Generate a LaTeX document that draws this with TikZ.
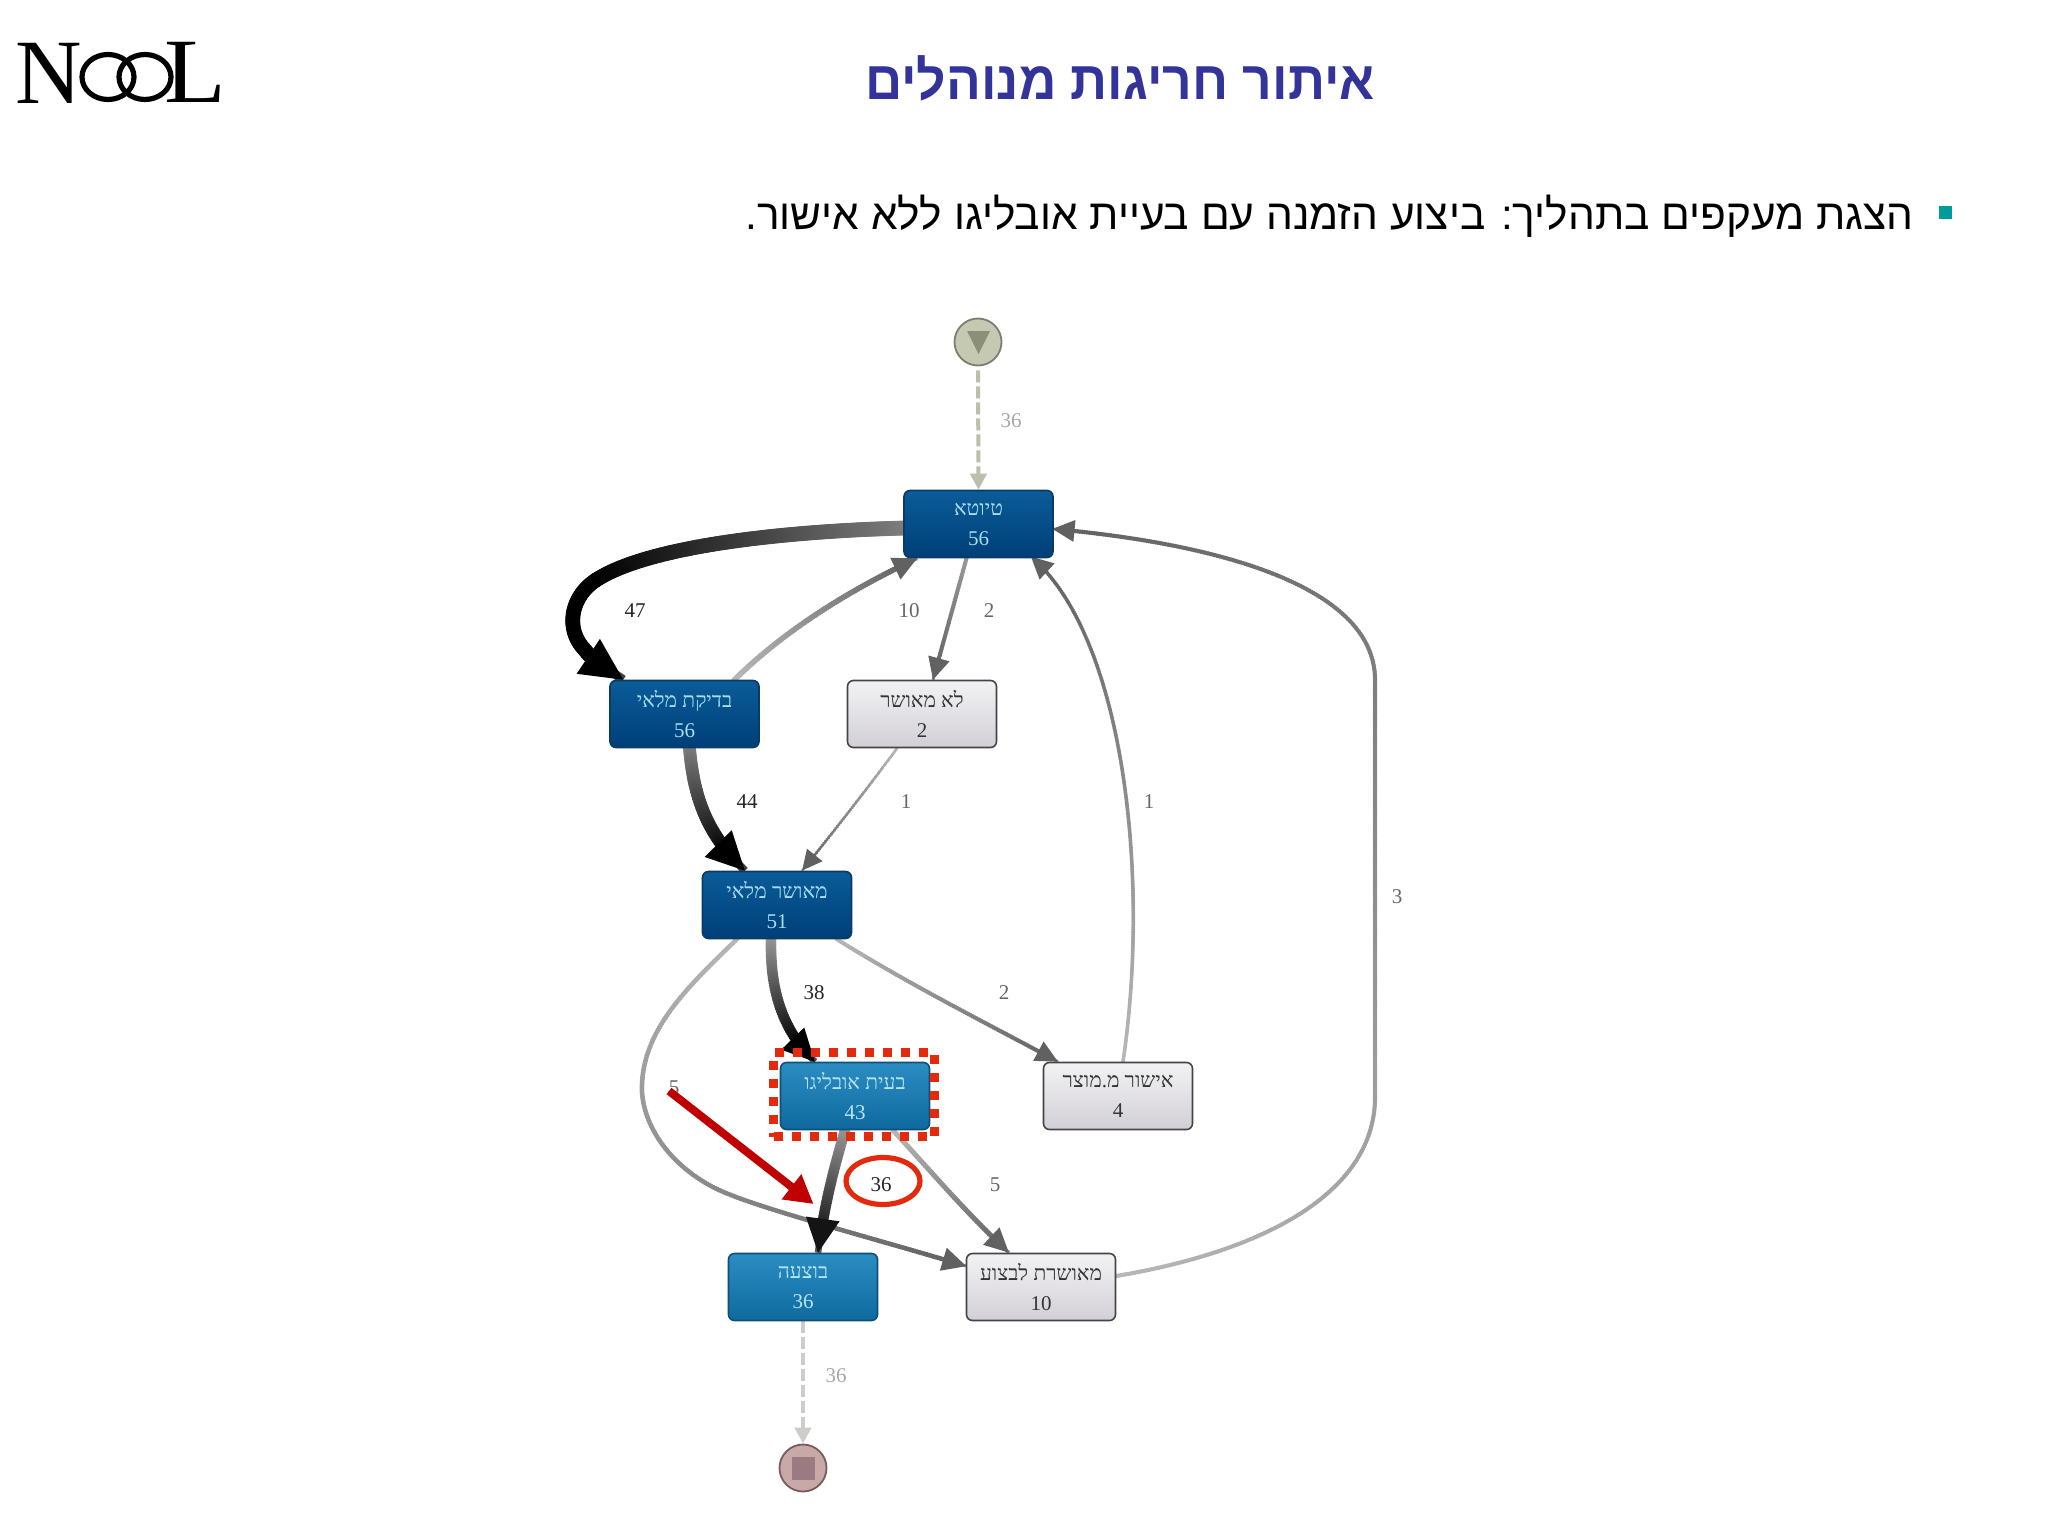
\documentclass[tikz,border=0pt]{standalone}
\usepackage{fontspec}
\usepackage{graphicx}
\TeXXeTstate=1
\setmainfont{Liberation Serif}
\newfontfamily\hebsans[Script=Hebrew]{Liberation Sans}
\newfontfamily\hebserif[Script=Hebrew]{Liberation Serif}
\newfontfamily\latserif{Liberation Serif}
\usetikzlibrary{arrows.meta,calc,decorations.markings,shapes.geometric}
\pgfdeclarelayer{paper}
\pgfdeclarelayer{edges}
\pgfsetlayers{paper,edges,main}
\definecolor{titleblue}{HTML}{333399}
\definecolor{bullet}{HTML}{009C9C}
\definecolor{redbox}{HTML}{E32A0C}
\definecolor{redarrow}{HTML}{C00000}
\definecolor{gA}{gray}{.72}
\definecolor{gB}{gray}{.60}
\definecolor{gC}{gray}{.50}
\definecolor{gD}{gray}{.38}
\definecolor{gE}{gray}{.08}
\definecolor{startfill}{HTML}{C5C9B2}
\definecolor{startline}{HTML}{7A8070}
\definecolor{startmark}{HTML}{8B8F78}
\definecolor{startedge}{HTML}{BCC0AA}
\definecolor{endfill}{HTML}{C9A8A8}
\definecolor{endline}{HTML}{7A5C5C}
\definecolor{endmark}{HTML}{9B7A82}
\definecolor{endedge}{HTML}{CFCBCB}
\definecolor{labgray}{gray}{.65}
\definecolor{dkline}{HTML}{0B3A63}
\definecolor{dktop}{HTML}{0A5C99}
\definecolor{dkbot}{HTML}{003F78}
\definecolor{dktext}{HTML}{A8DDF2}
\definecolor{mdline}{HTML}{0F4F78}
\definecolor{mdtop}{HTML}{2B8DC2}
\definecolor{mdbot}{HTML}{0F6A9E}
\definecolor{mdtext}{HTML}{B5E4F2}
\definecolor{grline}{HTML}{444448}
\definecolor{grtop}{HTML}{F2F2F4}
\definecolor{grbot}{HTML}{D2D0D6}
\tikzset{
 px/.style={x=0.5pt,y=-0.5pt},
 box/.style={rectangle,rounded corners=3pt,minimum width=74.5pt,minimum height=33.5pt,
   inner sep=0pt,align=center,line width=.8pt,font=\hebserif\fontsize{10.5}{15}\selectfont},
 darkbox/.style={box,draw=dkline,top color=dktop,bottom color=dkbot,text=dktext},
 midbox/.style={box,draw=mdline,top color=mdtop,bottom color=mdbot,text=mdtext},
 graybox/.style={box,draw=grline,top color=grtop,bottom color=grbot,text=black!80},
 lab/.style={inner sep=0pt,font=\latserif\fontsize{10.5}{10.5}\selectfont,text=black!85},
 lablight/.style={lab,text=labgray},
 labmid/.style={lab,text=black!60},
 flow/.style n args={5}{line width=#1*0.3pt,draw=#3!50!#2,
   postaction={decorate,decoration={markings,
     mark=between positions 0 and -#5*0.4pt step 1.2pt with {
       \pgfmathsetmacro\pct{min(100,100*(\pgfkeysvalueof{/pgf/decoration/mark info/distance from start}/\pgfdecoratedpathlength)/#4)}
       \fill[#3!\pct!#2] (0,0) circle[radius=#1*0.25pt];
     },
     mark=at position -3pt with {
       \fill[#3] (3pt,0pt) -- (3pt-#5*0.5pt,#5*0.25pt) -- (3pt-#5*0.5pt,-#5*0.25pt) -- cycle;
     }}}},
 entry/.style={line width=2pt,dash pattern=on 6pt off 2pt,draw=#1,
   -{Triangle[length=8pt,width=8pt,color=#1]}},
}
\newcommand{\hb}[1]{\beginR #1\endR}
\begin{document}
\begin{tikzpicture}[px]
\useasboundingbox (0,0) rectangle (2048,1536);
\begin{pgfonlayer}{paper}
\fill[white] (0,0) rectangle (2048,1536);
\end{pgfonlayer}
% logo
\node[inner sep=0pt,text=black,font=\latserif\fontsize{46}{46}\selectfont] (logoN) at (49,73) {N};
\node[inner sep=0pt,text=black,font=\latserif\fontsize{46}{46}\selectfont] (logoL) at (195,72) {\scalebox{1.1}[1]{L}};
\draw[line width=2.6pt,black] (108,77) ellipse (26 and 22.5);
\draw[line width=2.6pt,black] (145,77) ellipse (26 and 22.5);
% title and bullet line
\node[inner sep=0pt,text=titleblue,font=\hebsans\bfseries\fontsize{27}{27}\selectfont] (title) at (1120,78) {\scalebox{.955}[1]{\hb{איתור חריגות מנוהלים}}};
\node[fill=bullet,minimum size=6.5pt,inner sep=0pt] (mark) at (1945,212) {};
\node[inner sep=0pt,anchor=east,text=black,font=\hebsans\fontsize{21.2}{21.2}\selectfont] (line) at (1914,216) {\hb{הצגת מעקפים בתהליך: ביצוע הזמנה עם בעיית אובליגו ללא אישור.}};
% nodes
\node[circle,draw=startline,fill=startfill,line width=.9pt,minimum size=23.5pt,inner sep=0pt] (start) at (978,342) {};
\fill[startmark] (967,331) -- (990,331) -- (978.5,354) -- cycle;
\node[circle,draw=endline,fill=endfill,line width=.9pt,minimum size=23.5pt,inner sep=0pt] (stop) at (803,1468) {};
\fill[endmark] (791.5,1456.5) rectangle (814.5,1479.5);
\node[darkbox] (draft) at (978.5,524) {\hb{טיוטא}\\56};
\node[darkbox] (check) at (684.5,714) {\hb{בדיקת מלאי}\\56};
\node[graybox] (reject) at (922,714) {\hb{לא מאושר}\\2};
\node[darkbox] (full) at (777,905) {\hb{מאושר מלאי}\\51};
\node[midbox] (obl) at (855,1096) {\hb{בעית אובליגו}\\43};
\node[graybox] (prod) at (1118,1096) {\hb{אישור מ.מוצר}\\4};
\node[midbox] (done) at (803,1287) {\hb{בוצעה}\\36};
\node[graybox] (ready) at (1041,1287) {\hb{מאושרת לבצוע}\\10};
% connectors
\begin{pgfonlayer}{edges}
\draw[entry=startedge] ($(start.south)+(0,4)$) -- (draft.north);
\draw[entry=endedge] (done.south) -- (stop.north);
\draw[flow={15}{gC}{black}{.72}{42}] ($(draft.west)+(2,4)$) .. controls (790,531) and (650,545) .. (596,580) .. controls (570,597) and (565,630) .. (585,650) .. controls (592,660) and (606,668) .. ($(check.north west)+(14,0)$);
\draw[flow={6}{gA}{gD}{1}{24}] ($(check.north)+(50,0)$) .. controls (790,625) and (860,585) .. ($(draft.south west)+(14,0)$);
\draw[flow={4.5}{gB}{gD}{1}{22}] ($(draft.south)+(-12,0)$) -- ($(reject.north)+(11,0)$);
\draw[flow={3.5}{gA}{gD}{1}{20}] ($(reject.south)+(-25,0)$) .. controls (870,785) and (835,830) .. ($(full.north)+(25,0)$);
\draw[flow={13}{gC}{black}{.85}{38}] ($(check.south)+(5,0)$) .. controls (694,800) and (708,835) .. ($(full.north)+(-32,0)$);
\draw[flow={11}{gB}{black}{.85}{32}] ($(full.south)+(-6,0)$) .. controls (770,990) and (782,1030) .. ($(obl.north)+(-40,0)$);
\draw[flow={4.5}{gA}{gD}{1}{22}] ($(full.south)+(60,0)$) .. controls (910,985) and (990,1025) .. ($(prod.north)+(-60,0)$);
\draw[flow={5}{gA}{gD}{1}{24}] ($(full.south west)+(35,0)$) .. controls (690,985) and (640,1030) .. (642,1092) .. controls (645,1135) and (680,1172) .. (719,1190) .. controls (760,1209) and (880,1240) .. ($(ready.west)+(0,-21)$);
\draw[flow={11}{gB}{gE}{.9}{34}] ($(obl.south)+(-10,0)$) .. controls (835,1165) and (825,1200) .. ($(done.north)+(15,0)$);
\draw[flow={5.5}{gA}{gD}{1}{24}] ($(obl.south)+(38,0)$) .. controls (930,1170) and (965,1212) .. ($(ready.north)+(-32,0)$);
\draw[flow={4}{gA}{gD}{1}{22}] ($(prod.north)+(5,0)$) .. controls (1150,880) and (1125,640) .. ($(draft.south east)+(-21,0)$);
\draw[flow={4.5}{gA}{gD}{1}{22}] ($(ready.east)+(0,-11)$) .. controls (1270,1250) and (1375,1190) .. (1375,1097) -- (1375,680) .. controls (1375,590) and (1230,545) .. ($(draft.east)+(0,5)$);
\end{pgfonlayer}
% edge labels
\node[lablight] (l1) at (1011,421) {36};
\node[lab] (l2) at (635,611) {47};
\node[labmid] (l3) at (909,611) {10};
\node[labmid] (l4) at (989,611) {2};
\node[lab] (l5) at (747,802) {44};
\node[labmid] (l6) at (906,802) {1};
\node[labmid] (l7) at (1149,802) {1};
\node[labmid] (l8) at (1397,897) {3};
\node[lab] (l9) at (814,993) {38};
\node[labmid] (l10) at (1004,993) {2};
\node[labmid] (l11) at (674,1088) {5};
\node[lab] (l12) at (881,1185) {36};
\node[labmid] (l13) at (995,1185) {5};
\node[lablight] (l14) at (836,1376) {36};
% annotations
\node[draw=redbox,line width=4.5pt,dash pattern=on 4.5pt off 4.5pt,minimum width=80.5pt,minimum height=42pt,inner sep=0pt] (hl) at (854,1094.5) {};
\node[ellipse,draw=redbox,line width=2.6pt,minimum width=37pt,minimum height=23.5pt,inner sep=0pt] (ring) at (883,1181) {};
\coordinate (redA) at (669,1091);
\coordinate (redB) at (813.5,1204);
\draw[line width=4pt,redarrow,-{Triangle[length=14pt,width=15pt]}] (redA) -- (redB);
\end{tikzpicture}
\end{document}
